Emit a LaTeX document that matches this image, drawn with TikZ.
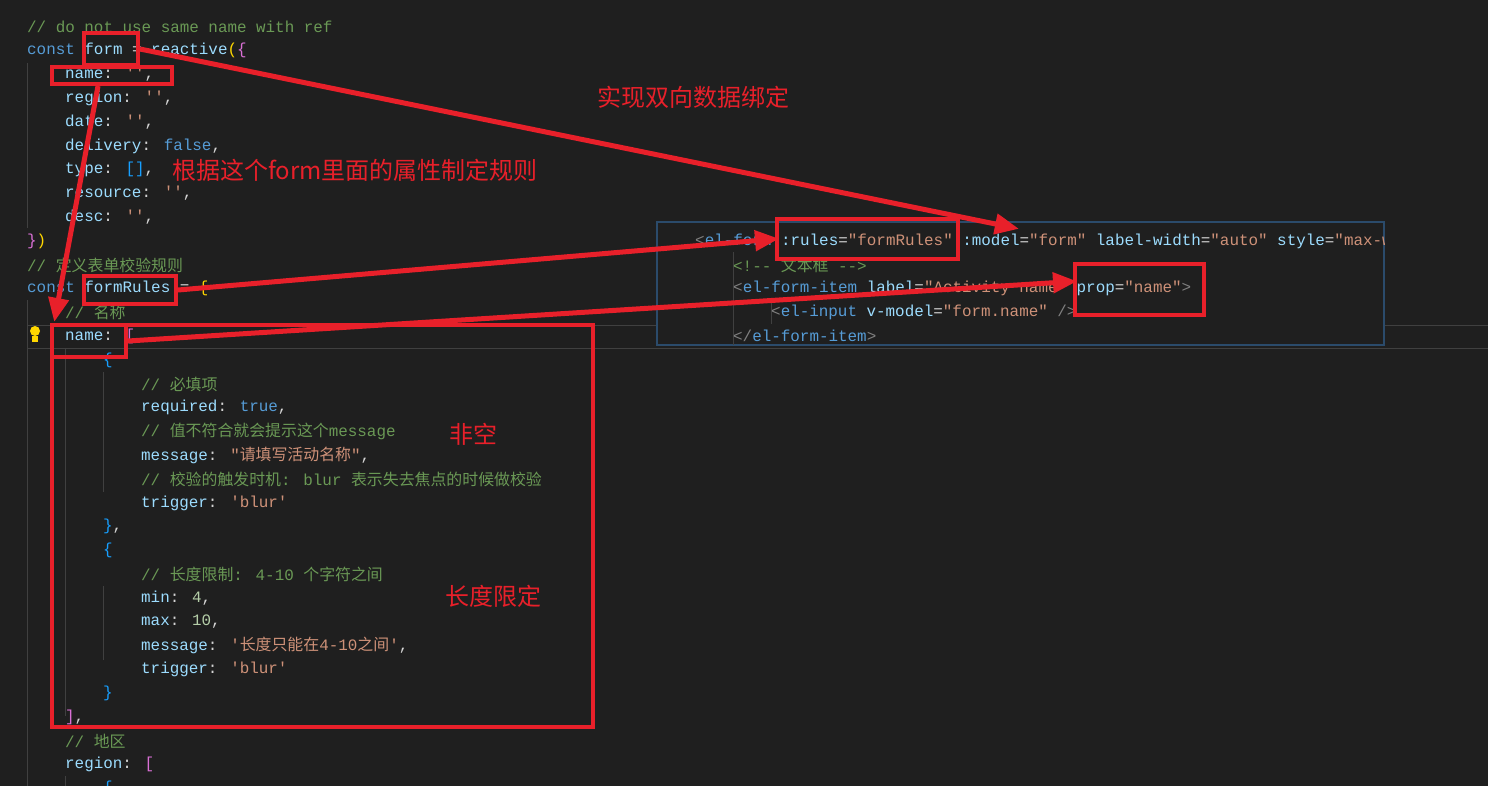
\documentclass[tikz,border=0pt]{standalone}
\usepackage{fontspec}
\usetikzlibrary{arrows.meta,calc}
\newfontfamily\code{Liberation Mono}
\newfontfamily\cjk{Noto Sans CJK SC}
\definecolor{bg}{HTML}{1F1F1F}
\definecolor{panelb}{HTML}{2B4B6B}
\definecolor{cm}{HTML}{6A9955}
\definecolor{kw}{HTML}{569CD6}
\definecolor{idc}{HTML}{9CDCFE}
\definecolor{stc}{HTML}{CE9178}
\definecolor{nmc}{HTML}{B5CEA8}
\definecolor{plain}{HTML}{D4D4D4}
\definecolor{br1}{HTML}{FFD700}
\definecolor{br2}{HTML}{DA70D6}
\definecolor{br3}{HTML}{179FFF}
\definecolor{tagc}{HTML}{808080}
\definecolor{redc}{HTML}{E8202A}
\definecolor{guidec}{HTML}{404040}
\newcommand\K[1]{\textcolor{kw}{#1}}
\newcommand\I[1]{\textcolor{idc}{#1}}
\newcommand\Sg[1]{\textcolor{stc}{#1}}
\newcommand\N[1]{\textcolor{nmc}{#1}}
\newcommand\C[1]{\textcolor{cm}{#1}}
\newcommand\zh[1]{{\cjk #1}}
\tikzset{
 codeline/.style={anchor=west,inner sep=0pt,font=\code\fontsize{15.9}{18}\selectfont,text=plain},
 redbox/.style={draw=redc,line width=4pt},
 redarrow/.style={draw=redc,line width=5pt,-{Triangle[length=24pt,width=20pt]},shorten >=-4pt},
 note/.style={text=redc,font=\cjk\fontsize{24}{28}\selectfont,inner sep=0pt},
 guide/.style={draw=guidec,line width=0.6pt}
}
\begin{document}
\begin{tikzpicture}[x=1pt,y=-1pt]
\fill[bg] (0,0) rectangle (1488,786);
\useasboundingbox (0,0) rectangle (1488,786);
% indent guides
\draw[guide] (27,63) -- (27,228);
\draw[guide] (27,300) -- (27,786);
\draw[guide] (65,348) -- (65,716);
\draw[guide] (65,776) -- (65,786);
\draw[guide] (103,372) -- (103,492);
\draw[guide] (103,586) -- (103,660);
% current line
\draw[guidec,line width=0.8pt] (27,325) -- (1488,325) (27,348) -- (1488,348);
% code lines
\def\ly#1{\fpeval{27+#1*23.8}}
\node[codeline] (l0) at (27,{\ly{0}}) {\C{// do not use same name with ref}};
\node[codeline] (l1) at (27,{\ly{1}}) {\K{const} \I{form} = \textcolor{idc}{reactive}\textcolor{br1}{(}\textcolor{br2}{\{}};
\node[codeline] (l2) at (65,{\ly{2}}) {\I{name}: \Sg{''},};
\node[codeline] (l3) at (65,{\ly{3}}) {\I{region}: \Sg{''},};
\node[codeline] (l4) at (65,{\ly{4}}) {\I{date}: \Sg{''},};
\node[codeline] (l5) at (65,{\ly{5}}) {\I{delivery}: \K{false},};
\node[codeline] (l6) at (65,{\ly{6}}) {\I{type}: \textcolor{br3}{[]},};
\node[codeline] (l7) at (65,{\ly{7}}) {\I{resource}: \Sg{''},};
\node[codeline] (l8) at (65,{\ly{8}}) {\I{desc}: \Sg{''},};
\node[codeline] (l9) at (27,{\ly{9}}) {\textcolor{br2}{\}}\textcolor{br1}{)}};
\node[codeline] (l10) at (27,{\ly{10}}) {\C{// \zh{定义表单校验规则}}};
\node[codeline] (l11) at (27,{\ly{11}}) {\K{const} \I{formRules} = \textcolor{br1}{\{}};
\node[codeline] (l12) at (65,{\ly{12}}) {\C{// \zh{名称}}};
\node[codeline] (l13) at (65,{\ly{13}}) {\I{name}: \textcolor{br2}{[}};
\node[codeline] (l14) at (103,{\ly{14}}) {\textcolor{br3}{\{}};
\node[codeline] (l15) at (141,{\ly{15}}) {\C{// \zh{必填项}}};
\node[codeline] (l16) at (141,{\ly{16}}) {\I{required}: \K{true},};
\node[codeline] (l17) at (141,{\ly{17}}) {\C{// \zh{值不符合就会提示这个}message}};
\node[codeline] (l18) at (141,{\ly{18}}) {\I{message}: \Sg{"\zh{请填写活动名称}"},};
\node[codeline] (l19) at (141,{\ly{19}}) {\C{// \zh{校验的触发时机}: blur \zh{表示失去焦点的时候做校验}}};
\node[codeline] (l20) at (141,{\ly{20}}) {\I{trigger}: \Sg{'blur'}};
\node[codeline] (l21) at (103,{\ly{21}}) {\textcolor{br3}{\}},};
\node[codeline] (l22) at (103,{\ly{22}}) {\textcolor{br3}{\{}};
\node[codeline] (l23) at (141,{\ly{23}}) {\C{// \zh{长度限制}: 4-10 \zh{个字符之间}}};
\node[codeline] (l24) at (141,{\ly{24}}) {\I{min}: \N{4},};
\node[codeline] (l25) at (141,{\ly{25}}) {\I{max}: \N{10},};
\node[codeline] (l26) at (141,{\ly{26}}) {\I{message}: \Sg{'\zh{长度只能在}4-10\zh{之间}'},};
\node[codeline] (l27) at (141,{\ly{27}}) {\I{trigger}: \Sg{'blur'}};
\node[codeline] (l28) at (103,{\ly{28}}) {\textcolor{br3}{\}}};
\node[codeline] (l29) at (65,{\ly{29}}) {\textcolor{br2}{]},};
\node[codeline] (l30) at (65,{\ly{30}}) {\C{// \zh{地区}}};
\node[codeline] (l31) at (65,{\ly{31}}) {\I{region}: \textcolor{br2}{[}};
\node[codeline] (l32) at (103,{\ly{32}}) {\textcolor{br3}{\{}};
% lightbulb
\fill[br1] (35,331) circle (5pt);
\fill[br1] (32,336) rectangle (38,342);
% right panel
\fill[bg] (657,222) rectangle (1384,345);
\draw[panelb,line width=1.5pt] (657,222) rectangle (1384,345);
\begin{scope}
\clip (657,222) rectangle (1384,345);
\draw[guide] (733,252) -- (733,345);
\draw[guide] (771,300) -- (771,324);
\node[codeline] (r1) at (695,241) {\textcolor{tagc}{<}\K{el-form} \I{:rules}=\Sg{"formRules"} \I{:model}=\Sg{"form"} \I{label-width}=\Sg{"auto"} \I{style}=\Sg{"max-width: 600px"}};
\node[codeline] (r2) at (733,265) {\C{<!-- \zh{文本框} -->}};
\node[codeline] (r3) at (733,288) {\textcolor{tagc}{<}\K{el-form-item} \I{label}=\Sg{"Activity name"} \I{prop}=\Sg{"name"}\textcolor{tagc}{>}};
\node[codeline] (r4) at (771,312) {\textcolor{tagc}{<}\K{el-input} \I{v-model}=\Sg{"form.name"} \textcolor{tagc}{/>}};
\node[codeline] (r5) at (733,336) {\textcolor{tagc}{</}\K{el-form-item}\textcolor{tagc}{>}};
\end{scope}
% red boxes
\node[redbox,inner sep=0pt,minimum width=54pt,minimum height=32pt] (bform) at (111,49) {};
\node[redbox,inner sep=0pt,minimum width=120pt,minimum height=17pt] (bname) at (112,75.5) {};
\node[redbox,inner sep=0pt,minimum width=92pt,minimum height=28pt] (bfr) at (130,290) {};
\node[redbox,inner sep=0pt,minimum width=74pt,minimum height=32pt] (bname2) at (89,341) {};
\node[redbox,inner sep=0pt,minimum width=541pt,minimum height=402pt] (bbig) at (322.5,526) {};
\node[redbox,inner sep=0pt,minimum width=181pt,minimum height=40pt] (brules) at (867.5,239) {};
\node[redbox,inner sep=0pt,minimum width=129pt,minimum height=51pt] (bprop) at (1139.5,289.5) {};
% arrows
\coordinate (tmodel) at (1015,228);
\coordinate (tname) at (55,318);
\draw[redarrow] (bform.east) -- (tmodel);
\draw[redarrow] ($(bname.south west)+(48,0)$) -- (tname);
\draw[redarrow] (bfr.east) -- (brules.west);
\draw[redarrow] (bname2.east) -- ($(bprop.west)+(0,-8)$);
% notes
\node[note] (n1) at (693,97) {实现双向数据绑定};
\node[note] (n2) at (355,170) {根据这个form里面的属性制定规则};
\node[note] (n3) at (473,434) {非空};
\node[note] (n4) at (493,596) {长度限定};
\end{tikzpicture}
\end{document}
